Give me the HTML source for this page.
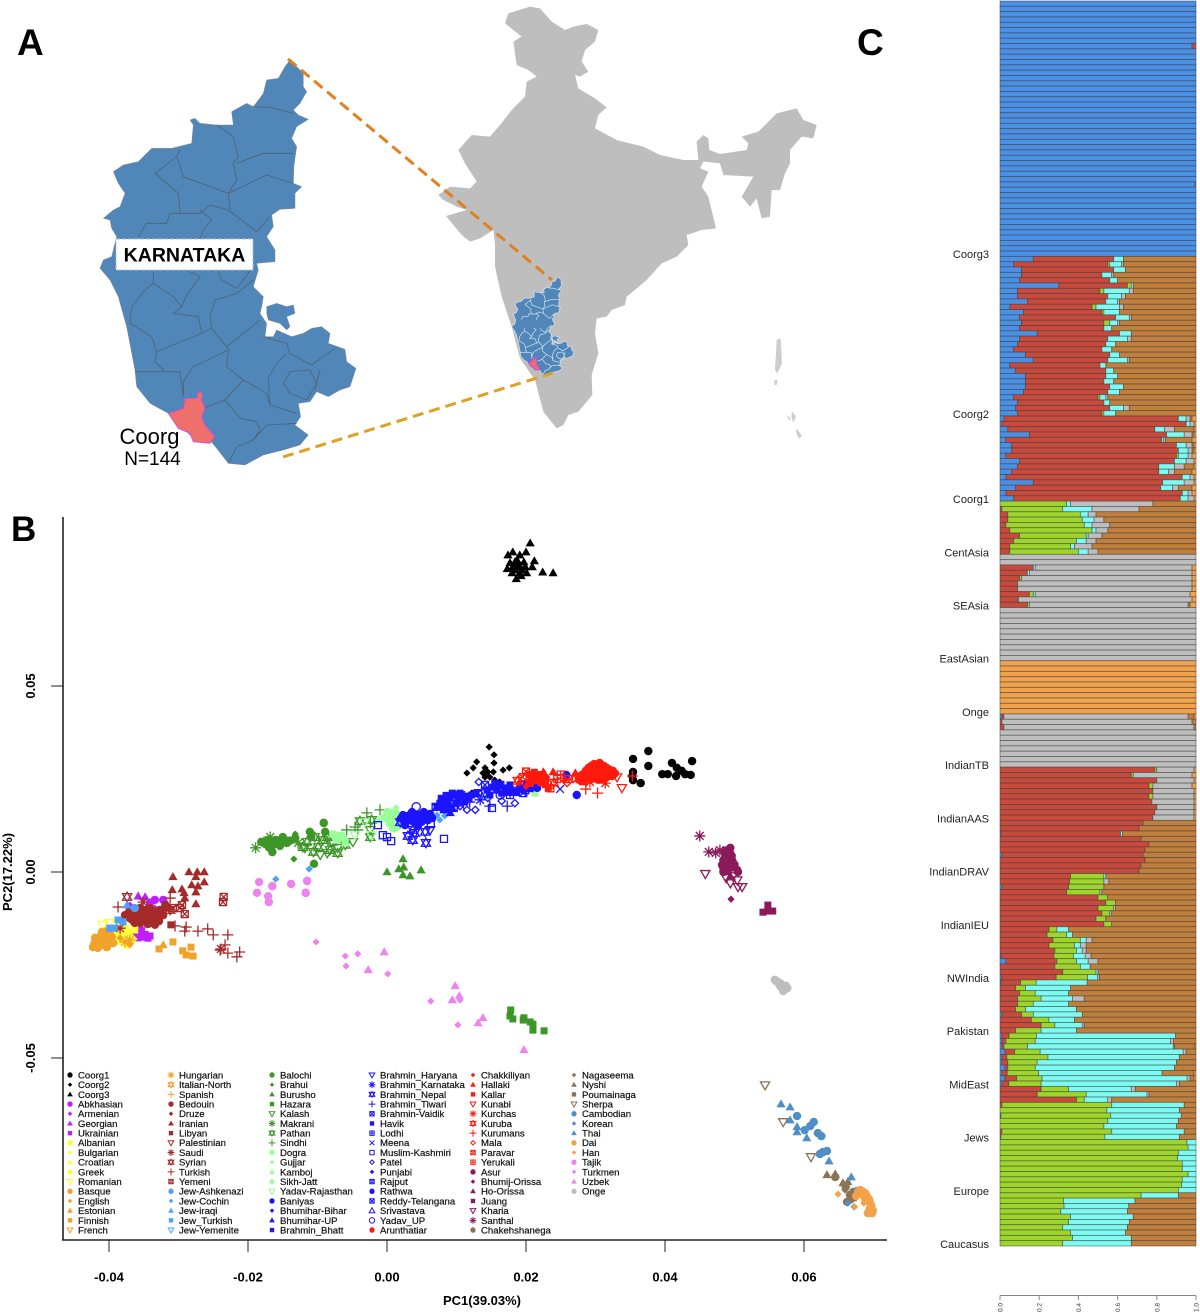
<!DOCTYPE html>
<html lang="en">
<head>
<meta charset="utf-8">
<title>Coorg population structure: map, PCA and admixture</title>
<style>
html,body{margin:0;padding:0;background:#fff;}
svg{display:block;font-family:"Liberation Sans",sans-serif;}
</style>
</head>
<body>
<svg id="figure" xmlns="http://www.w3.org/2000/svg" width="1200" height="1315" viewBox="0 0 1200 1315">
<defs>
<path id="ka-outline" d="M600,30 620,50 640,70 640,110 650,125 630,160 610,180 625,195 655,208 620,230 605,265 620,290 612,345 610,400 635,410 615,430 615,475 570,478 545,495 550,530 530,560 555,600 555,635 500,640 505,660 490,710 520,740 515,770 510,790 530,820 525,860 550,860 560,840 605,860 640,850 665,835 695,830 720,850 715,880 765,898 770,935 798,955 780,1010 750,1020 715,1040 680,1025 660,1055 625,1060 632,1100 615,1125 655,1155 630,1185 580,1200 520,1215 465,1245 415,1240 380,1195 360,1170 310,1165 235,1090 180,1060 140,1010 135,960 110,830 85,740 60,690 30,655 40,630 65,620 80,560 65,535 60,510 40,505 70,480 90,470 105,430 85,400 70,365 100,345 145,335 185,295 245,295 305,280 310,225 300,210 315,205 330,220 380,225 430,225 425,185 470,160 490,170 520,130 530,90 565,85 585,50Z M530,770 560,760 590,770 610,765 615,790 590,800 600,830 590,840 570,820 535,810 530,790Z"/>
<path id="ka-districts" fill="none" d="M490,170 540,172 610,190M380,225 430,260 445,320 430,340 440,390 415,430M440,340 520,310 610,310M415,430 530,375 610,400M415,430 280,380 260,320 270,300M260,320 195,370 265,430 270,490 330,490 360,465 415,480 500,545M415,430 420,480M270,490 240,490 230,520 170,520 145,560M330,480 365,510 340,540 330,565M500,545 540,500M190,665 190,700 165,720 125,770 120,820 185,860 200,905 195,935 225,965 270,965 280,1040M190,700 250,740 275,770 250,790 325,800 335,850 200,905M300,665 330,680 290,735 275,770M385,665 395,690 440,715 490,650M490,690 440,730 375,750 360,800 365,835 335,850M365,835 410,890 510,810M410,890 415,900 310,950 280,995 280,1040M415,900 410,950 460,990 530,1030 540,1065 620,1090M135,965 220,965M590,880 600,910 665,945 700,920 735,895M520,860 590,880M590,910 560,940 535,985 540,1065M600,965 580,1000 600,1030 650,1050 680,1000 660,960 600,965M690,960 675,1020M460,990 405,1050 340,1075M405,1050 450,1105 500,1115 510,1140 490,1170 530,1125 620,1120M490,1170 440,1190 415,1240"/>
<path id="ka-coorg" d="M325,1025 338,1030 335,1050 345,1075 335,1100 345,1125 375,1160 360,1180 310,1175 300,1150 265,1135 235,1090 280,1075 285,1045 320,1045Z"/>
</defs>

<rect x="0" y="0" width="1200" height="1315" fill="#fff"/>

<g transform="translate(430 0) scale(.33333)">
<path fill="#bebebe" d="M300,20 330,25 365,65 405,90 430,80 470,72 505,90 495,125 465,150 455,185 475,215 450,230 435,225 445,265 495,295 530,322 505,345 495,385 560,420 640,440 690,465 760,480 805,480 800,425 820,405 835,415 838,450 870,462 950,450 955,430 935,410 985,395 1040,340 1100,325 1120,360 1160,375 1150,415 1115,410 1080,450 1080,490 1065,520 1050,570 1025,570 1020,650 995,655 980,595 960,620 935,590 970,530 880,525 870,490 820,485 810,505 835,515 815,560 835,590 858,685 815,690 770,705 775,735 740,770 695,790 650,840 590,890 585,915 545,930 530,950 500,955 495,1000 505,1060 485,1125 487,1185 445,1235 415,1245 400,1275 380,1285 340,1235 315,1140 270,1075 245,980 215,890 195,800 195,730 190,690 150,715 120,725 95,705 48,648 110,630 80,620 40,600 25,585 60,560 120,565 140,545 105,490 85,450 125,405 180,410 210,375 245,330 285,290 290,245 320,230 295,210 260,195 250,125 275,110 225,70 235,40Z"/>
<path fill="#cdcdcd" d="M1040,1020 1052,1015 1056,1090 1042,1120 1035,1110ZM1033,1140 1043,1140 1040,1155 1034,1155ZM1100,1285 1116,1308 1106,1316 1098,1296ZM1070,1245 1082,1255 1078,1262ZM1086,1235 1098,1250 1090,1268 1084,1250Z"/>
</g>

<g transform="translate(509.3 274.3) scale(.081)">
<use href="#ka-outline" fill="#5086b8" stroke="#dbe6f1" stroke-width="8"/>
<use href="#ka-districts" stroke="#dbe6f1" stroke-width="8"/>
<use href="#ka-coorg" fill="#ee6f6c" stroke="#c24fe0" stroke-width="14"/>
</g>

<g transform="translate(90 50) scale(.33333)">
<use href="#ka-outline" fill="#5086b8" stroke="#7f8b96" stroke-width="1.5"/>
<use href="#ka-districts" stroke="#4f6273" stroke-width="2.4"/>
<use href="#ka-coorg" fill="#ee6f6c" stroke="#c24fe0" stroke-width="2.6"/>
</g>

<line x1="288" y1="59" x2="552" y2="280" stroke="#e0801f" stroke-width="3" stroke-dasharray="11 6"/>
<line x1="283" y1="457" x2="553" y2="373" stroke="#e0a022" stroke-width="3" stroke-dasharray="11 6"/>

<rect x="116" y="239" width="137" height="31" fill="#fff" stroke="#a8bdd2" stroke-width="1" stroke-dasharray="4 2"/>
<text x="184.500" y="261.500" font-size="19.500" font-weight="700" text-anchor="middle" fill="#000">KARNATAKA</text>
<text x="149.500" y="444" font-size="22" text-anchor="middle" fill="#000">Coorg</text>
<text x="152.500" y="465" font-size="19" text-anchor="middle" fill="#000">N=144</text>

<text x="17" y="55" font-size="37" font-weight="700" fill="#000">A</text>
<text x="11" y="541" font-size="35" font-weight="700" fill="#000">B</text>
<text x="857" y="55" font-size="37" font-weight="700" fill="#000">C</text>

<g id="pca-axes"></g>
<g id="pca-points"></g>
<g id="pca-legend"></g>
<g id="structure-bars"></g>
<g id="structure-axis"></g>
</svg>

<script>
// ---------- PCA tick labels ----------
const pc1Ticks = [-0.04, -0.02, 0, 0.02, 0.04, 0.06];
const pc2Ticks = [-0.05, 0, 0.05];

// ---------- PCA legend ----------
const legendNames = ["Coorg1","Coorg2","Coorg3","Abkhasian","Armenian","Georgian","Ukrainian","Albanian","Bulgarian","Croatian","Greek","Romanian","Basque","English","Estonian","Finnish","French","Hungarian","Italian-North","Spanish","Bedouin","Druze","Iranian","Libyan","Palestinian","Saudi","Syrian","Turkish","Yemeni","Jew-Ashkenazi","Jew-Cochin","Jew-iraqi","Jew_Turkish","Jew-Yemenite","Balochi","Brahui","Burusho","Hazara","Kalash","Makrani","Pathan","Sindhi","Dogra","Gujjar","Kamboj","Sikh-Jatt","Yadav-Rajasthan","Baniyas","Bhumihar-Bihar","Bhumihar-UP","Brahmin_Bhatt","Brahmin_Haryana","Brahmin_Karnataka","Brahmin_Nepal","Brahmin_Tiwari","Brahmin-Vaidik","Havik","Lodhi","Meena","Muslim-Kashmiri","Patel","Punjabi","Rajput","Rathwa","Reddy-Telangana","Srivastava","Yadav_UP","Arunthatiar","Chakkiliyan","Hallaki","Kallar","Kunabi","Kurchas","Kuruba","Kurumans","Mala","Paravar","Yerukali","Asur","Bhumij-Orissa","Ho-Orissa","Juang","Kharia","Santhal","Chakehshanega","Nagaseema","Nyshi","Poumainaga","Sherpa","Cambodian","Korean","Thai","Dai","Han","Tajik","Turkmen","Uzbek","Onge"];

// ---------- PCA scores, units of 1e-4 ----------
const coorg1PC1 = [376,354,376,439,410,417,424,396,404,416,429,437,354,353,354,365];
const coorg1PC2 = [325,304,285,298,293,280,272,263,263,258,263,261,269,258,247,239];
const coorg2PC1 = [147,154,154,129,115,124,141,167,176,145,153,141,155,162,122,114,144,138,148];
const coorg2PC2 = [336,315,293,296,266,280,280,274,280,269,269,255,247,242,212,196,261,266,255];
const coorg3PC1 = [206,174,181,200,191,212,177,184,197,173,187,199,209,180,191,201,186,224,239,187,184,194,190,193,181];
const coorg3PC2 = [884,852,860,860,852,836,831,833,833,815,820,820,820,804,804,804,788,806,804,839,812,812,825,796,820];
const abkhasianPC1 = [-334,-322,-341];
const abkhasianPC2 = [-75,-75,-83];
const armenianPC1 = [-370,-334,-319];
const armenianPC2 = [-89,-97,-81];
const georgianPC1 = [-358,-348];
const georgianPC2 = [-65,-67];
const ukrainianPC1 = [-363,-351,-341,-370,-358,-353,-367,-360,-348,-344,-356];
const ukrainianPC2 = [-169,-175,-172,-164,-177,-156,-175,-162,-168,-178,-170];
const albanianPC1 = [-391,-381,-373,-388,-378,-370,-385,-375];
const albanianPC2 = [-161,-177,-161,-170,-150,-175,-185,-195];
const bulgarianPC1 = [-367,-377,-372,-364];
const bulgarianPC2 = [-188,-169,-199,-180];
const greekPC1 = [-384,-396,-363];
const greekPC2 = [-156,-169,-156];
const romanianPC1 = [-409,-399,-387,-374];
const romanianPC2 = [-142,-137,-134,-142];
const basquePC1 = [-423,-416,-413,-406,-399,-409,-420,-403,-394,-410,-417,-401,-421,-414,-408,-402,-396,-412,-405,-418,-398,-407];
const basquePC2 = [-202,-204,-183,-169,-183,-191,-177,-202,-191,-161,-191,-177,-192,-195,-196,-193,-175,-172,-160,-199,-170,-188];
const englishPC1 = [-384,-370];
const englishPC2 = [-177,-196];
const estonianPC1 = [-322];
const estonianPC2 = [-196];
const finnishPC1 = [-308,-328,-294,-282,-289,-279];
const finnishPC2 = [-188,-207,-212,-202,-223,-226];
const hungarianPC1 = [-377,-370];
const hungarianPC2 = [-188,-183];
const bedouinPC1 = [-377,-370,-363,-355,-348,-341,-334,-327,-319,-370,-360,-351,-341,-331,-322,-355,-344,-334,-338,-348,-363,-372,-365,-358,-350,-344,-336,-329,-324,-316,-356,-346,-340,-328,-367];
const bedouinPC2 = [-116,-102,-107,-97,-102,-97,-107,-102,-89,-124,-124,-118,-118,-124,-116,-137,-140,-142,-129,-129,-137,-110,-115,-111,-110,-108,-112,-113,-108,-95,-128,-133,-136,-132,-128];
const iranianPC1 = [-308,-285,-273,-263,-275,-263,-281,-272,-309,-295,-292,-275,-291,-275];
const iranianPC2 = [-13,0,0,0,-13,-27,-35,-38,-48,-46,-56,-54,-70,-86];
const libyanPC1 = [-311];
const libyanPC2 = [-142];
const saudiPC1 = [-384,-239,-351];
const saudiPC2 = [-151,-207,-81];
const syrianPC1 = [-374,-312];
const syrianPC2 = [-67,-102];
const turkishPC1 = [-387,-305,-289,-272,-258,-250,-229,-233,-240,-229,-212,-216,-291,-312];
const turkishPC2 = [-94,-145,-148,-159,-153,-169,-169,-196,-210,-218,-215,-228,-159,-70];
const yemeniPC1 = [-235,-236,-291,-308,-298,-295];
const yemeniPC2 = [-67,-81,-113,-97,-97,-89];
const jewAshkenaziPC1 = [-363];
const jewAshkenaziPC2 = [-97];
const jewCochinPC1 = [72,76,83,-160,-112];
const jewCochinPC2 = [153,140,151,-19,8];
const jewIraqiPC1 = [-374];
const jewIraqiPC2 = [-89];
const jewTurkishPC1 = [-399,-380,-387,-393];
const jewTurkishPC2 = [-151,-134,-129,-151];
const balochiPC1 = [-181,-165,-150,-144,-164,-157,-111,-109,-91,-89,-105,-171,-132,-176,-160,-154,-148,-170,-140];
const balochiPC2 = [81,54,94,78,73,81,108,94,132,108,22,86,91,76,86,70,88,66,84];
const brahuiPC1 = [-134,-132];
const brahuiPC2 = [35,102];
const burushoPC1 = [0,17,23,24,23,33,49];
const burushoPC2 = [0,8,35,13,-8,-11,5];
const hazaraPC1 = [178,181,197,206,210,226,196,177,210];
const hazaraPC2 = [-371,-395,-392,-403,-425,-427,-398,-387,-409];
const kalashPC1 = [-118,-86,-49,-71,-96,-24];
const kalashPC2 = [65,51,81,65,46,113];
const makraniPC1 = [-189,-168,-128,-177];
const makraniPC2 = [65,94,78,81];
const pathanPC1 = [-121,-104,-99,-92,-82,-71,-106,-86,-39,-24,-22,-115,-60,-79];
const pathanPC2 = [67,94,67,86,59,51,54,94,137,94,140,81,73,81];
const sindhiPC1 = [-29,-10,-42,-24,-58,-46];
const sindhiPC2 = [159,167,113,132,113,121];
const dograPC1 = [-68,-63,-75,9,14,7,0,12,18,4,10,-4];
const dograPC2 = [94,91,97,118,121,140,161,159,128,131,150,145];
const gujjarPC1 = [1,7,16,22,13];
const gujjarPC2 = [153,161,153,145,172];
const kambojPC1 = [-60,4,-13];
const kambojPC2 = [78,145,140];
const sikhJattPC1 = [91,141,213,-72,-66,-78,-60];
const sikhJattPC2 = [180,202,212,86,99,102,84];
const yadavRajasthanPC1 = [-32,-46,-22];
const yadavRajasthanPC2 = [134,99,99];
const baniyasPC1 = [258,273,216];
const baniyasPC2 = [261,207,226];
const bhumiharUPPC1 = [86,91,94];
const bhumiharUPPC2 = [167,159,172];
const brahminBhattPC1 = [148,158,170,180,191,201,210,155,177,144,165,152,162,174,186,196,206];
const brahminBhattPC2 = [207,220,226,220,228,234,231,239,234,220,212,228,232,214,215,222,224];
const brahminHaryanaPC1 = [62,105,141];
const brahminHaryanaPC2 = [113,207,212];
const brahminKarnatakaPC1 = [83,191,134];
const brahminKarnatakaPC2 = [180,220,194];
const brahminNepalPC1 = [37,56,37,40,19,30,55];
const brahminNepalPC2 = [86,78,113,105,134,97,108];
const brahminTiwariPC1 = [119,148,173];
const brahminTiwariPC2 = [188,177,177];
const brahminVaidikPC1 = [70,96];
const brahminVaidikPC2 = [175,172];
const havikPC1 = [76,83,91,98,102,108,115,122,88,99,112,81,72,94,105,118,128,85,78];
const havikPC2 = [185,194,199,207,194,202,204,207,180,185,188,167,176,212,212,196,212,206,198];
const lodhiPC1 = [209,199,177];
const lodhiPC2 = [258,234,207];
const meenaPC1 = [249,106];
const meenaPC2 = [223,180];
const muslimKashmiriPC1 = [63,82,6,151,-6,0,-13,206,199];
const muslimKashmiriPC2 = [129,89,83,172,99,94,126,234,220];
const patelPC1 = [132,127,165,184,105,115,145];
const patelPC2 = [242,167,191,185,177,167,199];
const rajputPC1 = [131,141,184,196,163];
const rajputPC2 = [212,234,215,212,234];
const rathwaPC1 = [23,30,36,42,47,53,59,26,33,45,65,28,38,50,56,62,20,40,34,48];
const rathwaPC2 = [153,140,161,145,153,161,140,126,153,126,145,150,135,135,148,156,144,155,145,143];
const yadavUPPC1 = [42,26,163];
const yadavUPPC2 = [175,134,207];
const arunthatiarPC1 = [278,282,286,290,290,294,298,298,302,302,304,306,308,310,312,314,316,318,320,322,325,328,300,305,295,310,315,285,282,288,292,296,300,304,308,312,316,320,324,290,294,298,302,306,310,286,280,276];
const arunthatiarPC2 = [255,262,268,258,272,265,280,262,270,285,255,293,275,262,285,270,280,262,275,268,272,265,275,265,275,278,265,258,250,252,248,258,252,248,258,250,255,258,258,280,285,290,262,283,268,272,245,248];
const chakkiliyanPC1 = [190,200,230,255];
const chakkiliyanPC2 = [240,230,255,245];
const hallakiPC1 = [239,271,282,225];
const hallakiPC2 = [269,266,242,269];
const kallarPC1 = [205,210,215,222,228,218,225,232,212,216,220,224,228,206];
const kallarPC2 = [262,250,245,240,235,258,248,225,268,262,255,262,248,238];
const kunabiPC1 = [338,331];
const kunabiPC2 = [226,255];
const kurchasPC1 = [314,292];
const kurchasPC2 = [239,242];
const kurubaPC1 = [188,210,240];
const kurubaPC2 = [245,255,240];
const kurumansPC1 = [286,303,353,288];
const kurumansPC2 = [223,212,258,247];
const malaPC1 = [259,268,278];
const malaPC2 = [239,250,260];
const paravarPC1 = [200,205,195];
const paravarPC2 = [270,240,255];
const yerukaliPC1 = [250,245,262,235];
const yerukaliPC2 = [262,250,250,225];
const asurPC1 = [494,496,489,484,494,489,498,482,504,505,484,486,491,488,492,497,486,500,491,484,494];
const asurPC2 = [65,43,46,32,27,13,13,19,5,0,0,51,38,58,55,30,38,20,5,10,50];
const bhumijPC1 = [495];
const bhumijPC2 = [-73];
const hoOrissaPC1 = [486,494];
const hoOrissaPC2 = [5,-11];
const juangPC1 = [548,541,555,548];
const juangPC2 = [-89,-108,-105,-105];
const khariaPC1 = [458,505,511,494,504,488,498];
const khariaPC2 = [-5,-40,-40,-30,-22,-16,-11];
const santhalPC1 = [450,463,479,473];
const santhalPC2 = [97,54,59,51];
const chakehshanegaPC1 = [645,660,666,662,671];
const chakehshanegaPC2 = [-820,-847,-868,-887,-860];
const nagaseemaPC1 = [659,669];
const nagaseemaPC2 = [-855,-882];
const nyshiPC1 = [633,645,656,663];
const nyshiPC2 = [-814,-812,-836,-833];
const poumainagaPC1 = [682,671];
const poumainagaPC2 = [-860,-876];
const sherpaPC1 = [544,570,610];
const sherpaPC2 = [-573,-672,-766];
const cambodianPC1 = [590,614,609,601,620,625,633,623,627];
const cambodianPC2 = [-656,-672,-683,-694,-702,-710,-750,-758,-753];
const koreanPC1 = [663,672,675];
const koreanPC2 = [-890,-900,-855];
const thaiPC1 = [567,580,580,590,590,604,636,668];
const thaiPC2 = [-624,-632,-667,-685,-699,-715,-777,-820];
const daiPC1 = [681,688,692,695,695,698,692,685,675,678,684,690,694,697,699,694,688];
const daiPC2 = [-855,-863,-876,-890,-903,-917,-917,-868,-871,-860,-858,-870,-882,-897,-910,-910,-880];
const hanPC1 = [649,673,686];
const hanPC2 = [-866,-900,-890];
const tajikPC1 = [-184,-165,-138,-115,-117,-187,-171,-170];
const tajikPC2 = [-27,-38,-32,-24,-56,-56,-65,-81];
const turkmenPC1 = [-102,-60,-42,-59,1,63,102,105];
const turkmenPC2 = [-188,-226,-220,-253,-274,-347,-411,-344];
const uzbekPC1 = [-27,-4,98,104,94,138,131,197];
const uzbekPC2 = [-263,-215,-306,-333,-344,-392,-406,-478];
const ongePC1 = [558,563,567,571,576,570,567,560,565,569,573,574,564];
const ongePC2 = [-290,-296,-301,-306,-312,-320,-309,-293,-305,-312,-315,-306,-298];

const pcaSeries = {
  "Coorg1":[coorg1PC1,coorg1PC2],"Coorg2":[coorg2PC1,coorg2PC2],"Coorg3":[coorg3PC1,coorg3PC2],
  "Abkhasian":[abkhasianPC1,abkhasianPC2],"Armenian":[armenianPC1,armenianPC2],"Georgian":[georgianPC1,georgianPC2],"Ukrainian":[ukrainianPC1,ukrainianPC2],
  "Albanian":[albanianPC1,albanianPC2],"Bulgarian":[bulgarianPC1,bulgarianPC2],"Greek":[greekPC1,greekPC2],"Romanian":[romanianPC1,romanianPC2],
  "Basque":[basquePC1,basquePC2],"English":[englishPC1,englishPC2],"Estonian":[estonianPC1,estonianPC2],"Finnish":[finnishPC1,finnishPC2],"Hungarian":[hungarianPC1,hungarianPC2],
  "Bedouin":[bedouinPC1,bedouinPC2],"Iranian":[iranianPC1,iranianPC2],"Libyan":[libyanPC1,libyanPC2],"Saudi":[saudiPC1,saudiPC2],"Syrian":[syrianPC1,syrianPC2],"Turkish":[turkishPC1,turkishPC2],"Yemeni":[yemeniPC1,yemeniPC2],
  "Jew-Ashkenazi":[jewAshkenaziPC1,jewAshkenaziPC2],"Jew-Cochin":[jewCochinPC1,jewCochinPC2],"Jew-iraqi":[jewIraqiPC1,jewIraqiPC2],"Jew_Turkish":[jewTurkishPC1,jewTurkishPC2],
  "Balochi":[balochiPC1,balochiPC2],"Brahui":[brahuiPC1,brahuiPC2],"Burusho":[burushoPC1,burushoPC2],"Hazara":[hazaraPC1,hazaraPC2],"Kalash":[kalashPC1,kalashPC2],"Makrani":[makraniPC1,makraniPC2],"Pathan":[pathanPC1,pathanPC2],"Sindhi":[sindhiPC1,sindhiPC2],
  "Dogra":[dograPC1,dograPC2],"Gujjar":[gujjarPC1,gujjarPC2],"Kamboj":[kambojPC1,kambojPC2],"Sikh-Jatt":[sikhJattPC1,sikhJattPC2],"Yadav-Rajasthan":[yadavRajasthanPC1,yadavRajasthanPC2],
  "Baniyas":[baniyasPC1,baniyasPC2],"Bhumihar-UP":[bhumiharUPPC1,bhumiharUPPC2],"Brahmin_Bhatt":[brahminBhattPC1,brahminBhattPC2],"Brahmin_Haryana":[brahminHaryanaPC1,brahminHaryanaPC2],"Brahmin_Karnataka":[brahminKarnatakaPC1,brahminKarnatakaPC2],"Brahmin_Nepal":[brahminNepalPC1,brahminNepalPC2],"Brahmin_Tiwari":[brahminTiwariPC1,brahminTiwariPC2],"Brahmin-Vaidik":[brahminVaidikPC1,brahminVaidikPC2],"Havik":[havikPC1,havikPC2],"Lodhi":[lodhiPC1,lodhiPC2],"Meena":[meenaPC1,meenaPC2],"Muslim-Kashmiri":[muslimKashmiriPC1,muslimKashmiriPC2],"Patel":[patelPC1,patelPC2],"Rajput":[rajputPC1,rajputPC2],"Rathwa":[rathwaPC1,rathwaPC2],"Yadav_UP":[yadavUPPC1,yadavUPPC2],
  "Arunthatiar":[arunthatiarPC1,arunthatiarPC2],"Chakkiliyan":[chakkiliyanPC1,chakkiliyanPC2],"Hallaki":[hallakiPC1,hallakiPC2],"Kallar":[kallarPC1,kallarPC2],"Kunabi":[kunabiPC1,kunabiPC2],"Kurchas":[kurchasPC1,kurchasPC2],"Kuruba":[kurubaPC1,kurubaPC2],"Kurumans":[kurumansPC1,kurumansPC2],"Mala":[malaPC1,malaPC2],"Paravar":[paravarPC1,paravarPC2],"Yerukali":[yerukaliPC1,yerukaliPC2],
  "Asur":[asurPC1,asurPC2],"Bhumij-Orissa":[bhumijPC1,bhumijPC2],"Ho-Orissa":[hoOrissaPC1,hoOrissaPC2],"Juang":[juangPC1,juangPC2],"Kharia":[khariaPC1,khariaPC2],"Santhal":[santhalPC1,santhalPC2],
  "Chakehshanega":[chakehshanegaPC1,chakehshanegaPC2],"Nagaseema":[nagaseemaPC1,nagaseemaPC2],"Nyshi":[nyshiPC1,nyshiPC2],"Poumainaga":[poumainagaPC1,poumainagaPC2],"Sherpa":[sherpaPC1,sherpaPC2],
  "Cambodian":[cambodianPC1,cambodianPC2],"Korean":[koreanPC1,koreanPC2],"Thai":[thaiPC1,thaiPC2],"Dai":[daiPC1,daiPC2],"Han":[hanPC1,hanPC2],
  "Tajik":[tajikPC1,tajikPC2],"Turkmen":[turkmenPC1,turkmenPC2],"Uzbek":[uzbekPC1,uzbekPC2],"Onge":[ongePC1,ongePC2]
};

// ---------- STRUCTURE ancestry proportions, percent per individual ----------
const structureComponents = ["blue","red","green","cyan","gray","brown","orange"];
const coorg3Rows = [[100,0,0,0,0,0,0],[100,0,0,0,0,0,0],[100,0,0,0,0,0,0],[100,0,0,0,0,0,0],[100,0,0,0,0,0,0],[100,0,0,0,0,0,0],[100,0,0,0,0,0,0],[100,0,0,0,0,0,0],[98,2,0,0,0,0,0],[100,0,0,0,0,0,0],[100,0,0,0,0,0,0],[100,0,0,0,0,0,0],[100,0,0,0,0,0,0],[100,0,0,0,0,0,0],[100,0,0,0,0,0,0],[100,0,0,0,0,0,0],[100,0,0,0,0,0,0],[100,0,0,0,0,0,0],[100,0,0,0,0,0,0],[100,0,0,0,0,0,0],[100,0,0,0,0,0,0],[100,0,0,0,0,0,0],[100,0,0,0,0,0,0],[100,0,0,0,0,0,0],[100,0,0,0,0,0,0],[100,0,0,0,0,0,0],[100,0,0,0,0,0,0],[100,0,0,0,0,0,0],[100,0,0,0,0,0,0],[100,0,0,0,0,0,0],[100,0,0,0,0,0,0],[100,0,0,0,0,0,0],[100,0,0,0,0,0,0],[100,0,0,0,0,0,0],[99.5,0,0,0,0,.5,0],[100,0,0,0,0,0,0],[100,0,0,0,0,0,0],[100,0,0,0,0,0,0],[100,0,0,0,0,0,0],[100,0,0,0,0,0,0],[100,0,0,0,0,0,0],[100,0,0,0,0,0,0],[100,0,0,0,0,0,0],[100,0,0,0,0,0,0],[100,0,0,0,0,0,0],[100,0,0,0,0,0,0],[100,0,0,0,0,0,0],[100,0,0,0,0,0,0]];
const coorg2Rows = [[17,41,0,5,0,37,0],[7,48,1,6,1,37,0],[11,47,0,6,0,36,0],[11,41,0,5,1,42,0],[10,46,0,4,0,40,0],[30,35,2,1,0,32,0],[9,42,2,13,2,32,0],[9,46,0,7,2,36,0],[14,40,0,6,1,39,0],[5,42,2,12,2,37,0],[12,40,1,8,0,39,0],[10,49,0,7,1,33,0],[11,42,3,4,1,39,0],[10,43,0,4,0,43,0],[19,42,0,6,0,33,0],[10,45,0,10,2,33,0],[9,45,0,5,0,41,0],[7,45,0,5,0,43,0],[13,43,0,5,0,39,0],[17,38,0,10,1,34,0],[5,46,0,3,0,46,0],[8,46,0,4,0,42,0],[13,41,0,6,0,40,0],[13,40,0,5,0,42,0],[13,43,0,7,0,37,0],[12,43,0,6,0,39,0],[7,43,1,3,1,45,0],[9,44,0,3,0,44,0],[8,48,0,7,3,34,0],[9,43,1,6,0,41,0]];
const coorg1Rows = [[2,89,0,4,2,1,2],[1,94,0,2,2,0,1],[4,75,0,5,5,10,1],[15,70,0,9,4,1,1],[3,82,0,1,1,14,2],[6,84,0,5,3,1,1],[6,85,0,5,2,1,1],[3,87,1,5,2,0,2],[10,79,0,6,4,0,1],[9,72,0,8,5,5,1],[6,75,0,5,3,9,2],[3,90,0,4,2,0,1],[17,66,0,11,5,0,1],[8,74,0,6,3,7,2],[3,90,0,3,2,0,2],[7,85,0,4,3,0,1]];
const centAsiaRows = [[0,0,34,2,42,22,0],[0,1,31,15,24,29,0],[0,4,37,4,4,51,0],[0,4,38,6,5,47,0],[0,3,40,4,9,44,0],[0,5,42,2,6,45,0],[0,10,34,1,7,48,0],[0,7,32,5,5,51,0],[0,5,31,2,9,53,0],[0,5,35,5,5,50,0]];
const seAsiaRows = [[0,0,0,0,100,0,0],[0,0,0,0,100,0,0],[0,17,0,1,80,0,2],[0,14,0,1,83,0,2],[0,10,1,0,87,0,2],[0,9,0,0,89,0,2],[0,9,0,0,89,0,2],[0,15,2,1,79,0,3],[0,9,0,.5,88.5,0,2],[0,14,1,0,81,1,3]];
const eastAsianRows = [[0,0,0,0,100,0,0],[0,0,0,0,100,0,0],[0,0,0,0,100,0,0],[0,0,0,0,100,0,0],[0,0,0,0,100,0,0],[0,0,0,0,100,0,0],[0,0,0,0,100,0,0],[0,0,0,0,100,0,0],[0,0,0,0,100,0,0],[0,0,0,0,100,0,0]];
const ongeRows = [[0,0,0,0,0,0,100],[0,0,0,0,0,0,100],[0,0,0,0,0,0,100],[0,0,0,0,0,0,100],[0,0,0,0,0,0,100],[0,0,0,0,0,0,100],[0,0,0,0,0,0,100],[0,0,0,0,0,0,100],[0,0,0,0,0,0,100],[0,0,0,0,0,0,100]];
const indianTBRows = [[1,1,0,0,94,3,1],[0,1,0,0,97,2,0],[0,2,0,0,97,1,0],[0,0,0,0,100,0,0],[0,0,0,0,100,0,0],[0,0,0,0,100,0,0],[0,0,0,0,100,0,0],[0,0,0,0,100,0,0],[0,0,0,0,100,0,0],[0,0,0,0,100,0,0]];
const indianAASRows = [[0,79,1,0,19,0,1],[0,67,1,0,30,0,2],[0,80,0,0,19,0,1],[0,76,2,0,20,0,2],[0,78,0,0,21,0,1],[0,76,2,0,21,0,1],[0,77.500,0,0,21.500,0,1],[0,80,0,0,19,0,1],[0,79,0,0,20,0,1],[0,78,0,0,21,0,1]];
const indianDRAVRows = [[0,73,0,0,0,27,0],[0,71,0,0,0,29,0],[.5,61,0,1,0,37.500,0],[0,72,0,0,0,28,0],[0,76,0,0,0,24,0],[0,74,0,0,0,26,0],[1,72,0,0,0,27,0],[0,74,0,0,0,26,0],[0,72,0,0,0,28,0],[0,71,0,0,0,29,0]];
const indianIEURows = [[0,36,17,1,0,46,0],[0,35.500,17.500,0,2.500,44.500,0],[1,34,18,0,0,47,0],[0,34,17,0,1,48,0],[0,50,5,0,0,45,0],[0,54,5,0,0,41,0],[0,50,8,0,1,41,0],[0,52,4,0,1,43,0],[0,49,5,0,0,46,0],[0,53,4,0,0,43,0]];
const nwIndiaRows = [[0,25,4,6,0,65,0],[0,24,10,3,0,63,0],[0,27,14,3,3,53,0],[0,25,13,3,3,56,0],[0,28,11,3,2,56,0],[.5,27,10,6,3,53.500,0],[3,26,10,6,5,50,0],[0,28,13,5,0,54,0],[0,32,17,1,0,50,0],[.7,28,16,5,1,49.300,0]];
const pakistanRows = [[.5,10,8,26,0,55.500,0],[0,8,5,23,0,64,0],[0,10,8,17,0,65,0],[0,9,12,16,6,57,0],[0,9,8,18,0,65,0],[0,8,5,26,0,61,0],[1,10,6,25,0,58,0],[0,16,9,13,0,62,0],[0,21,7,14,1,57,0],[0,8,13,18,0,61,0]];
const midEastRows = [[1,3.600,14,71,0,10.400,0],[1,2,15,69,1.500,11.500,0],[1,1,12,74,.5,10.500,.5],[2.500,5,13,73,1.500,5,0],[1,2.500,21,67,0,8.500,0],[1,3,15,71,0,10,0],[2.500,1.500,14,71,0,11,0],[1,2.700,16,63,0,16.300,1],[2.500,6,13,74,1.500,2,1],[1,3.500,16.500,69,1.500,8.500,0]];
const jewsRows = [[0,21,14,32,2,31,0],[0,19,25,31,1,24,0],[0,39,4,12,2,43,0],[0,1,56,37,0,6,0],[0,0,54.500,37,0,8.500,0],[.5,0,56,36,0,7.500,0],[0,0,55,36,0,9,0],[0,0,53,37,0,10,0],[0,1,56,37,0,6,0],[.5,0,53,38,0,8.500,0]];
const europeRows = [[0,0,95.400,4.600,0,0,0],[0,0,96,4,0,0,0],[0,0,91,9,0,0,0],[0,0,90.600,9.400,0,0,0],[0,0,93,7,0,0,0],[0,0,93,7,0,0,0],[0,0,96,4,0,0,0],[0,0,93,7,0,0,0],[0,0,92.700,7.300,0,0,0],[0,0,91,9,0,0,0]];
const caucasusRows = [[0,0,72,19,0,9,0],[0,0,32.400,36.500,0,31.100,0],[0,0,32.700,33,0,34.300,0],[0,0,31,34,0,35,0],[0,0,36,32,0,32,0],[0,0,35,31,0,34,0],[0,0,32,33,0,35,0],[0,0,36,28,0,36,0],[0,0,37,30,0,33,0],[0,0,32,35,0,33,0]];
const structureGroups = ["Coorg3","Coorg2","Coorg1","CentAsia","SEAsia","EastAsian","Onge","IndianTB","IndianAAS","IndianDRAV","IndianIEU","NWIndia","Pakistan","MidEast","Jews","Europe","Caucasus"];
const structureTicks = [0, 0.2, 0.4, 0.6, 0.8, 1];

// ---------- styles and scales ----------
const NS = "http://www.w3.org/2000/svg";
const groupRows = [coorg3Rows,coorg2Rows,coorg1Rows,centAsiaRows,seAsiaRows,eastAsianRows,ongeRows,indianTBRows,indianAASRows,indianDRAVRows,indianIEURows,nwIndiaRows,pakistanRows,midEastRows,jewsRows,europeRows,caucasusRows];
const componentColors = {blue:"#4b90e4",red:"#c84a3c",green:"#9ed52c",cyan:"#7dfbf2",gray:"#bebebe",brown:"#c07f3d",orange:"#f3a24c"};
const styleGroups = [
  ["#000000",["circle","diamond","tri"]],
  ["#bf1fff",["circle","diamond","tri","square"]],
  ["#ffff33",["circle","diamond","tri","square","invtri"]],
  ["#f0a32a",["circle","diamond","tri","square","invtri","aster","david","plus"]],
  ["#a52a2a",["circle","diamond","tri","square","invtri","aster","david","plus","boxx"]],
  ["#4f9fff",["circle","diamond","tri","square","invtri"]],
  ["#3c9628",["circle","diamond","tri","square","invtri","aster","david","plus"]],
  ["#99ff99",["circle","diamond","tri","square","invtri"]],
  ["#1c14ff",["circle","diamond","tri","square","invtri","aster","david","plus","boxx","square","boxplus","x","hsquare","hdiamond","diamond","boxx","circle","boxx","htri","hcircle"]],
  ["#ff1a0d",["circle","diamond","tri","square","invtri","aster","david","plus","hdiamond","boxx","boxplus"]],
  ["#8b1a5b",["circle","diamond","tri","square","invtri","aster"]],
  ["#8b7355",["circle","diamond","tri","square","invtri"]],
  ["#4f8fc5",["circle","diamond","tri"]],
  ["#f4a24a",["circle","diamond"]],
  ["#ee82ee",["circle","diamond","tri"]],
  ["#bebebe",["circle"]]
];
const flatStyles = [];
styleGroups.forEach(function(g){ g[1].forEach(function(s){ flatStyles.push([g[0], s]); }); });

function xPC(v){ return 387 + 0.695 * v; }      // v in 1e-4 PC1 units
function yPC(v){ return 872 - 0.372 * v; }      // v in 1e-4 PC2 units
function xTick(v){ return 387 + 6950 * v; }
function yTick(v){ return 872 - 3720 * v; }
function xStruct(f){ return 1000 + 196 * f; }
const ROW_H = 1245 / 234;

function markerPath(shape, x, y, r){
  const t = function(a,b){ return (x + a*r).toFixed(2) + "," + (y + b*r).toFixed(2); };
  const circ = "M" + t(-1,0) + "A" + r + "," + r + " 0 1,0 " + t(1,0) + "A" + r + "," + r + " 0 1,0 " + t(-1,0) + "Z";
  const up = "M" + t(0,-1.15) + "L" + t(1.12,.8) + "L" + t(-1.12,.8) + "Z";
  const dn = "M" + t(0,1.15) + "L" + t(1.12,-.8) + "L" + t(-1.12,-.8) + "Z";
  const sq = "M" + t(-.9,-.9) + "L" + t(.9,-.9) + "L" + t(.9,.9) + "L" + t(-.9,.9) + "Z";
  const di = "M" + t(0,-.95) + "L" + t(.95,0) + "L" + t(0,.95) + "L" + t(-.95,0) + "Z";
  const pl = "M" + t(-1.35,0) + "L" + t(1.35,0) + "M" + t(0,-1.35) + "L" + t(0,1.35);
  const xx = "M" + t(-.95,-.95) + "L" + t(.95,.95) + "M" + t(-.95,.95) + "L" + t(.95,-.95);
  switch(shape){
    case "circle": case "hcircle": return circ;
    case "tri": case "htri": return up;
    case "invtri": return dn;
    case "square": case "hsquare": return sq;
    case "diamond": case "hdiamond": return di;
    case "plus": return pl;
    case "x": return xx;
    case "aster": return pl + xx;
    case "david": return up + dn;
    case "boxx": return sq + xx;
    case "boxplus": return sq + "M" + t(-.9,0) + "L" + t(.9,0) + "M" + t(0,-.9) + "L" + t(0,.9);
  }
  return circ;
}
function isFilled(shape){ return ["circle","tri","square","diamond"].indexOf(shape) >= 0; }
function slug(s){ return s.toLowerCase().replace(/[^a-z0-9]+/g, "-"); }
function markerScale(shape){
  if(shape === "circle" || shape === "hcircle") return 4.2;
  if(shape === "square" || shape === "hsquare" || shape === "boxx" || shape === "boxplus") return 3.9;
  if(shape === "diamond" || shape === "hdiamond") return 3.8;
  return 4.1;
}

// ---------- PCA axes ----------
const axesGroup = document.getElementById("pca-axes");
function addLine(parent, x1, y1, x2, y2, name, color, width){
  const el = document.createElementNS(NS, "line");
  el.setAttribute("x1", x1);
  el.setAttribute("y1", y1);
  el.setAttribute("x2", x2);
  el.setAttribute("y2", y2);
  el.setAttribute("stroke", color);
  el.setAttribute("stroke-width", width);
  
  
  parent.appendChild(el);
}
function addText(parent, x, y, str, size, weight, anchor, name, rotate, color){
  const el = document.createElementNS(NS, "text");
  el.setAttribute("x", x);
  el.setAttribute("y", y);
  el.setAttribute("font-size", size);
  el.setAttribute("font-weight", weight);
  el.setAttribute("text-anchor", anchor);
  el.setAttribute("fill", color);
  if(rotate){ el.setAttribute("transform", "rotate(" + rotate + " " + x + " " + y + ")"); }
  
  
  el.textContent = str;
  parent.appendChild(el);
  return el;
}
addLine(axesGroup, 63, 517, 63, 1240, "y-axis-line", "#222", 1.6);
addLine(axesGroup, 62, 1240, 887, 1240, "x-axis-line", "#222", 1.6);
pc1Ticks.forEach(function(v){
  const px = xTick(v);
  addLine(axesGroup, px, 1240, px, 1252, "x-tick", "#222", 1);
  addText(axesGroup, px, 1281.500, v.toFixed(2), 13, 700, "middle", "x-tick-label", 0, "#000");
});
pc2Ticks.forEach(function(v){
  const py = yTick(v);
  addLine(axesGroup, 51, py, 63, py, "y-tick", "#222", 1);
  addText(axesGroup, 35, py, v.toFixed(2), 13, 700, "middle", "y-tick-label", -90, "#000");
});
addText(axesGroup, 482, 1305, "PC1(39.03%)", 13, 700, "middle", "x-axis-title", 0, "#000");
addText(axesGroup, 12, 872, "PC2(17.22%)", 13, 700, "middle", "y-axis-title", -90, "#000");

// ---------- PCA points ----------
const pointsGroup = document.getElementById("pca-points");
legendNames.forEach(function(name, i){
  const entry = pcaSeries[name];
  if(!entry){ return; }
  const color = flatStyles[i][0], shape = flatStyles[i][1];
  const g = document.createElementNS(NS, "g");
  
  
  const xs = entry[0], ys = entry[1];
  xs.forEach(function(xv, k){
    const p = document.createElementNS(NS, "path");
    p.setAttribute("d", markerPath(shape, xPC(xv), yPC(ys[k]), markerScale(shape)));
    if(isFilled(shape)){
      p.setAttribute("fill", color);
    } else {
      p.setAttribute("fill", "none");
      p.setAttribute("stroke", color);
      p.setAttribute("stroke-width", "1.3");
    }
    
    
    g.appendChild(p);
  });
  pointsGroup.appendChild(g);
});

// ---------- PCA legend ----------
const legendGroup = document.getElementById("pca-legend");
const legendColumnX = [78,179,280,380,481,582];
legendNames.forEach(function(name, i){
  const col = Math.floor(i / 17), row = i % 17;
  const tx = legendColumnX[col], ty = 1075 + row * 9.69;
  const color = flatStyles[i][0], shape = flatStyles[i][1];
  const g = document.createElementNS(NS, "g");
  
  
  const p = document.createElementNS(NS, "path");
  p.setAttribute("d", markerPath(shape, tx - 8, ty, markerScale(shape) * 0.62));
  if(isFilled(shape)){
    p.setAttribute("fill", color);
  } else {
    p.setAttribute("fill", "none");
    p.setAttribute("stroke", color);
    p.setAttribute("stroke-width", "1");
  }
  
  
  g.appendChild(p);
  const label = addText(g, tx, ty + 3.4, name, 9.6, 400, "start", "legend-label", 0, "#111");
  label.setAttribute("stroke", "#111");
  label.setAttribute("stroke-width", "0.2");
  legendGroup.appendChild(g);
});

// ---------- STRUCTURE bars ----------
const barsGroup = document.getElementById("structure-bars");
let rowIndex = 0;
groupRows.forEach(function(rows, gi){
  const g = document.createElementNS(NS, "g");
  
  
  rows.forEach(function(row){
    const total = row.reduce(function(a,b){ return a + b; }, 0);
    let cum = 0;
    const y = 1 + rowIndex * ROW_H;
    row.forEach(function(val, c){
      if(val > 0){
        const x0 = xStruct(cum / total), x1 = xStruct((cum + val) / total);
        const r = document.createElementNS(NS, "rect");
        r.setAttribute("x", x0.toFixed(2));
        r.setAttribute("y", y.toFixed(2));
        r.setAttribute("width", (x1 - x0).toFixed(2));
        r.setAttribute("height", ROW_H.toFixed(2));
        r.setAttribute("fill", componentColors[structureComponents[c]]);
        r.setAttribute("stroke", "#3a3a3a");
        r.setAttribute("stroke-opacity", "0.6");
        r.setAttribute("stroke-width", "0.8");
        
        
        g.appendChild(r);
      }
      cum += val;
    });
    rowIndex++;
  });
  barsGroup.appendChild(g);
});

// ---------- STRUCTURE labels and axis ----------
const structAxis = document.getElementById("structure-axis");
let cumRows = 0;
structureGroups.forEach(function(name, i){
  cumRows += groupRows[i].length;
  const yEnd = 1 + cumRows * ROW_H;
  const yy = i === 0 ? 258 : i === 1 ? 418 : yEnd + 2;
  addText(structAxis, 989, yy, name, 11, 400, "end", "group-label", 0, "#222");
});
addLine(structAxis, xStruct(0), 1295.500, xStruct(1), 1295.500, "structure-axis-line", "#888", 1);
structureTicks.forEach(function(v){
  const px = xStruct(v);
  addLine(structAxis, px, 1295.500, px, 1300, "structure-tick", "#888", 1);
  addText(structAxis, px + 2.500, 1312, v.toFixed(1), 6.500, 400, "start", "structure-tick-label", -90, "#333");
});
</script>
</body>
</html>
